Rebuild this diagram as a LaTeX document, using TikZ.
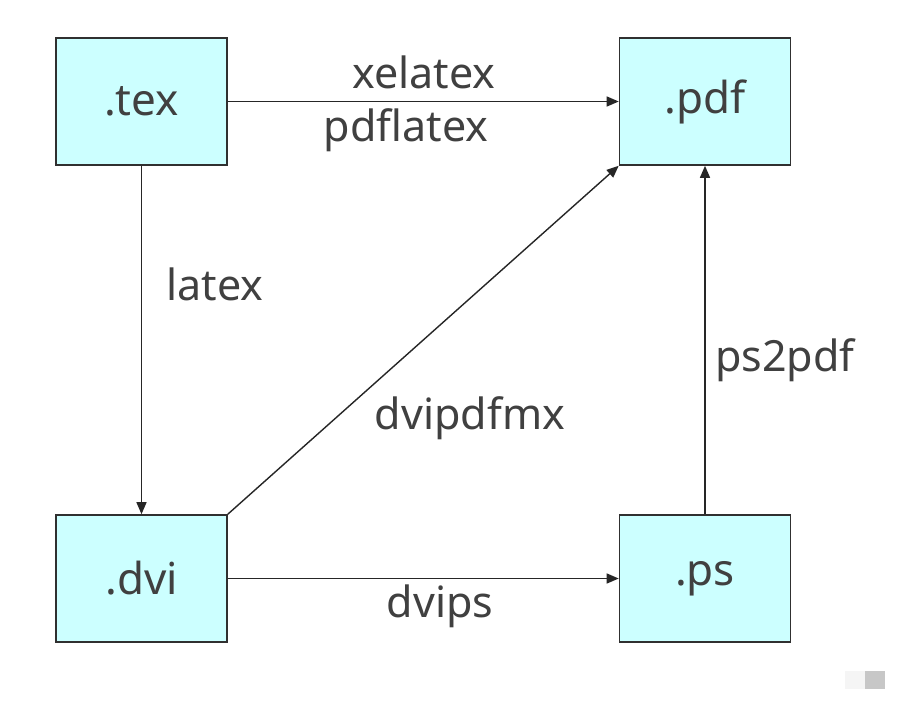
\documentclass[tikz,border=0pt]{standalone}
\usepackage{fontspec}
\setmainfont{Noto Sans}
\usetikzlibrary{arrows.meta}
\definecolor{boxfill}{HTML}{CCFFFF}
\definecolor{boxline}{HTML}{303030}
\definecolor{txt}{HTML}{404040}
\begin{document}
\begin{tikzpicture}[x=1pt,y=-1pt,
  filebox/.style={draw=boxline,fill=boxfill,line width=1.6pt,minimum width=171pt,minimum height=127pt,inner sep=0pt,text=txt,font=\fontsize{44}{50}\selectfont},
  conn/.style={draw=black!85,line width=1.4pt,-{Triangle[length=12pt,width=10pt]}},
  lbl/.style={text=txt,font=\fontsize{43}{50}\selectfont,inner sep=0pt}]
\useasboundingbox (0,0) rectangle (900,702);
\fill[white] (0,0) rectangle (900,702);
\node[filebox] (tex) at (141.5,101.5) {.tex};
\node[filebox] (pdf) at (705,101.5) {.pdf};
\node[filebox] (dvi) at (141.5,578.5) {.dvi};
\node[filebox] (ps) at (705,578.5) {.ps};
\draw[conn] (tex) -- (pdf);
\draw[conn] (tex) -- (dvi);
\draw[conn] (dvi) -- (ps);
\draw[conn] (ps) -- (pdf);
\draw[conn] (dvi.north east) -- (pdf.south west);
\node[lbl] (l1) at (424,72) {xelatex};
\node[lbl] (l2) at (406,130) {pdflatex};
\node[lbl] (l3) at (215,284) {latex};
\node[lbl] (l4) at (470,418) {dvipdfmx};
\node[lbl] (l5) at (785,360) {ps2pdf};
\node[lbl] (l6) at (440,606) {dvips};
\fill[black!4] (845,671) rectangle (865,689);
\fill[black!22] (865,671) rectangle (885,689);
\end{tikzpicture}
\end{document}
